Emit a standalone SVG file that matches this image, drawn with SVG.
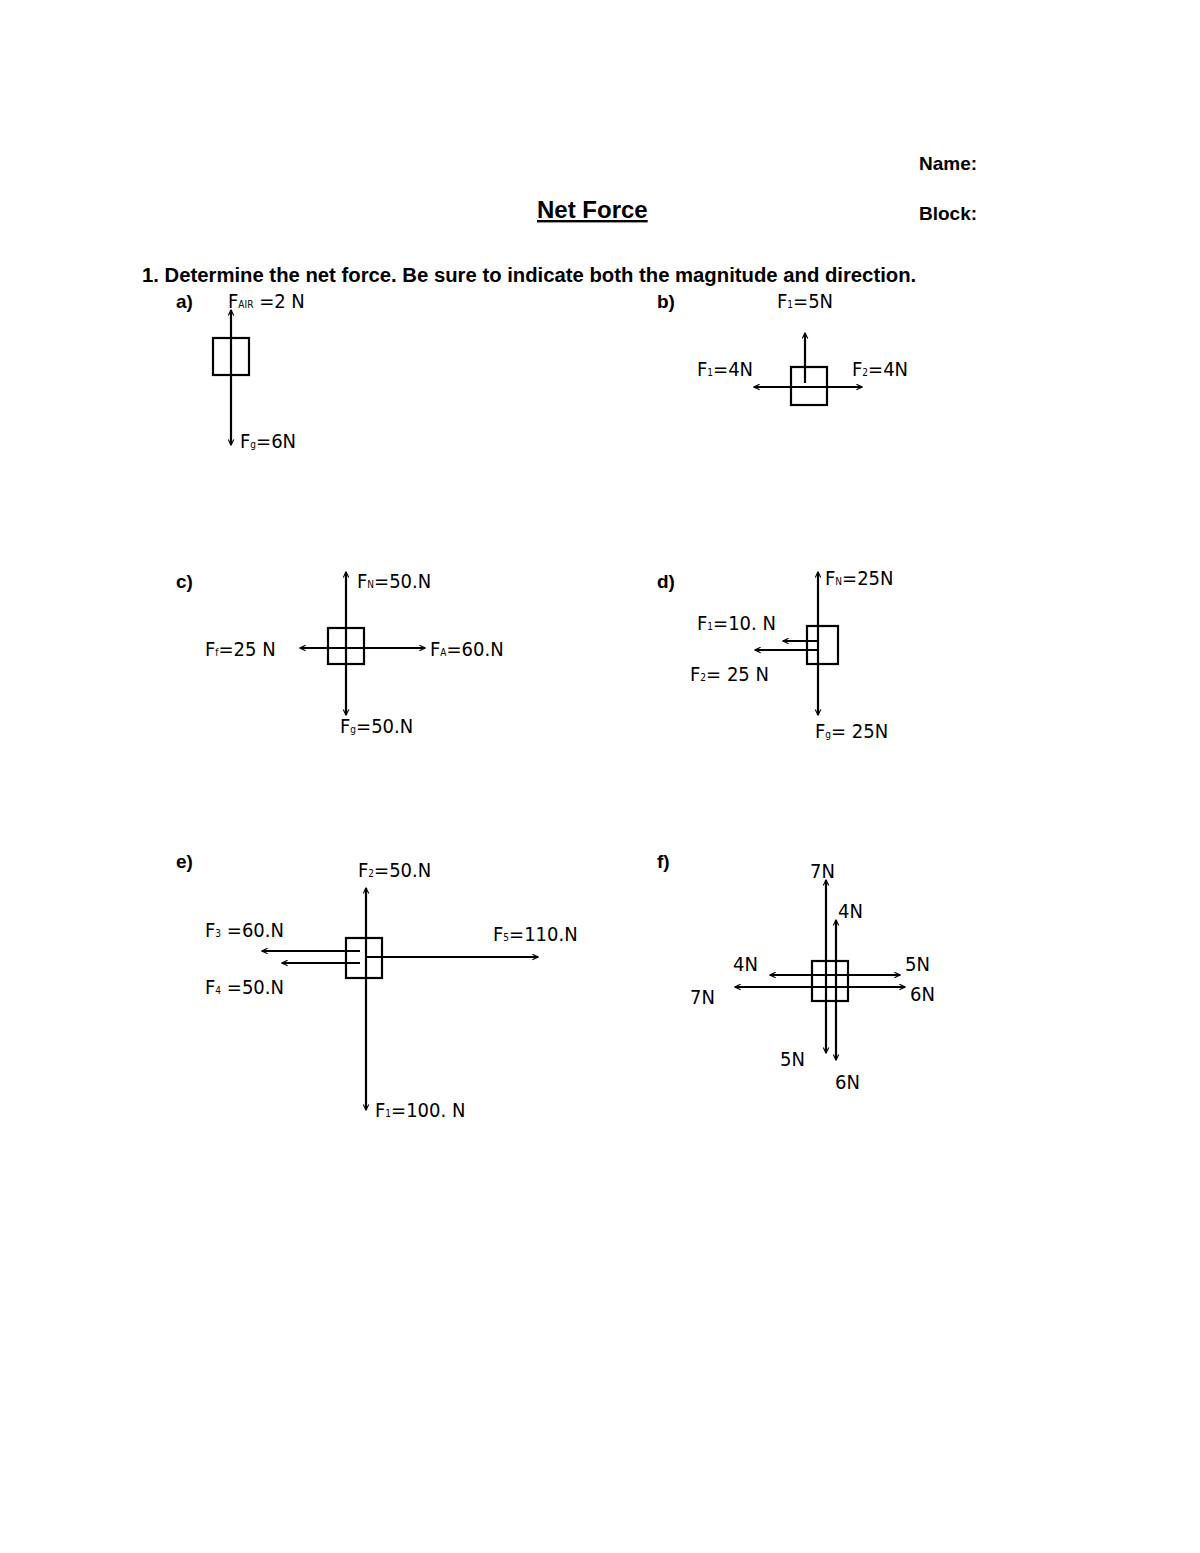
<svg xmlns="http://www.w3.org/2000/svg" width="1200" height="1553" viewBox="0 0 1200 1553">
<style>
.h{font-family:"Liberation Sans",Arial,sans-serif;font-weight:bold;font-size:19px;fill:#000}
.l{font-family:"DejaVu Sans Condensed","DejaVu Sans",sans-serif;font-size:20px;fill:#000}
.s{font-size:10px}
.b{fill:none;stroke:#000;stroke-width:2.2}
.c line{stroke:#000;stroke-width:2.2;marker-end:url(#ar)}
</style>
<defs><marker id="ar" viewBox="0 0 10 10" refX="9" refY="5" markerWidth="7" markerHeight="7" orient="auto" markerUnits="userSpaceOnUse"><path d="M1,1L9,5L1,9" fill="none" stroke="#000" stroke-width="1.6"/></marker></defs>
<rect width="1200" height="1553" fill="#fff"/>
<g id="header">
<text class="h" x="919" y="170">Name:</text>
<text class="h" x="919" y="220">Block:</text>
<text class="h" x="537" y="218" style="font-size:24px" text-decoration="underline">Net Force</text>
<text class="h" x="142" y="282" style="font-size:20.3px">1.  Determine the net force. Be sure to indicate both the magnitude and direction.</text>
<text class="h" x="176" y="308">a)</text><text class="h" x="657" y="308">b)</text>
<text class="h" x="176" y="588">c)</text><text class="h" x="657" y="588">d)</text>
<text class="h" x="176" y="868">e)</text><text class="h" x="657" y="868">f)</text>
</g>
<g id="boxes">
<rect class="b" x="213" y="338" width="36" height="37"/>
<rect class="b" x="791" y="367" width="36" height="38"/>
<rect class="b" x="328" y="628" width="36" height="36"/>
<rect class="b" x="807" y="626" width="31" height="38"/>
<rect class="b" x="346" y="938" width="36" height="40"/>
<rect class="b" x="812" y="961" width="36" height="40"/>
</g>
<g id="connectors" class="c">
<line x1="231" y1="360" x2="231" y2="310"/><line x1="231" y1="360" x2="231" y2="445"/>
<line x1="805" y1="383" x2="805" y2="333"/><line x1="805" y1="387" x2="754" y2="387"/><line x1="805" y1="387" x2="862" y2="387"/>
<line x1="346" y1="648" x2="346" y2="572"/><line x1="346" y1="648" x2="346" y2="715"/><line x1="346" y1="648" x2="300" y2="648"/><line x1="346" y1="648" x2="425" y2="648"/>
<line x1="818" y1="645" x2="818" y2="572"/><line x1="818" y1="645" x2="818" y2="715"/><line x1="818" y1="641" x2="783" y2="641"/><line x1="818" y1="650" x2="755" y2="650"/>
<line x1="366" y1="957" x2="366" y2="888"/><line x1="366" y1="957" x2="366" y2="1110"/><line x1="366" y1="957" x2="538" y2="957"/><line x1="360" y1="951" x2="262" y2="951"/><line x1="360" y1="963" x2="282" y2="963"/>
<line x1="826" y1="981" x2="826" y2="880"/><line x1="836" y1="981" x2="836" y2="920"/><line x1="826" y1="981" x2="826" y2="1053"/><line x1="836" y1="981" x2="836" y2="1060"/>
<line x1="830" y1="975" x2="770" y2="975"/><line x1="830" y1="975" x2="900" y2="975"/><line x1="830" y1="987" x2="735" y2="987"/><line x1="830" y1="987" x2="905" y2="987"/>
</g>
<g id="labels">
<text class="l" x="228" y="308">F<tspan class="s">AIR</tspan> =2 N</text>
<text class="l" x="240" y="448">F<tspan class="s">g</tspan>=6N</text>
<text class="l" x="777" y="308">F<tspan class="s">1</tspan>=5N</text>
<text class="l" x="697" y="376">F<tspan class="s">1</tspan>=4N</text>
<text class="l" x="852" y="376">F<tspan class="s">2</tspan>=4N</text>
<text class="l" x="357" y="588">F<tspan class="s">N</tspan>=50.N</text>
<text class="l" x="205" y="656">F<tspan class="s">f</tspan>=25 N</text>
<text class="l" x="430" y="656">F<tspan class="s">A</tspan>=60.N</text>
<text class="l" x="340" y="733">F<tspan class="s">g</tspan>=50.N</text>
<text class="l" x="825" y="585">F<tspan class="s">N</tspan>=25N</text>
<text class="l" x="697" y="630">F<tspan class="s">1</tspan>=10. N</text>
<text class="l" x="690" y="681">F<tspan class="s">2</tspan>= 25 N</text>
<text class="l" x="815" y="738">F<tspan class="s">g</tspan>= 25N</text>
<text class="l" x="358" y="877">F<tspan class="s">2</tspan>=50.N</text>
<text class="l" x="205" y="937">F<tspan class="s">3</tspan> =60.N</text>
<text class="l" x="205" y="994">F<tspan class="s">4</tspan> =50.N</text>
<text class="l" x="493" y="941">F<tspan class="s">5</tspan>=110.N</text>
<text class="l" x="375" y="1117">F<tspan class="s">1</tspan>=100. N</text>
<text class="l" x="810" y="878">7N</text>
<text class="l" x="838" y="918">4N</text>
<text class="l" x="733" y="971">4N</text>
<text class="l" x="905" y="971">5N</text>
<text class="l" x="690" y="1004">7N</text>
<text class="l" x="910" y="1001">6N</text>
<text class="l" x="780" y="1066">5N</text>
<text class="l" x="835" y="1089">6N</text>
</g>
</svg>
